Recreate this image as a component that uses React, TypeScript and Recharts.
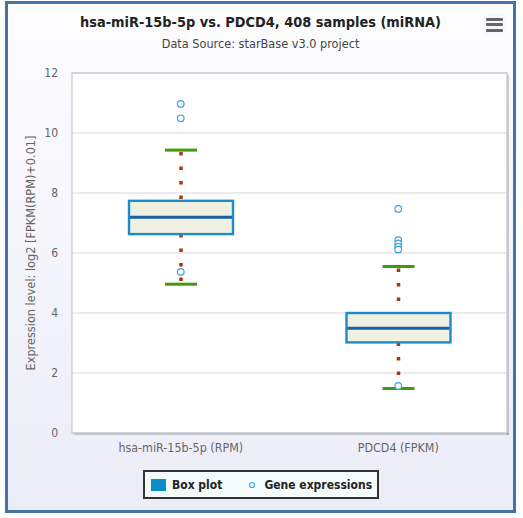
import React from "react";
import {
  ComposedChart,
  Bar,
  Scatter,
  XAxis,
  YAxis,
  CartesianGrid,
  ReferenceArea,
} from "recharts";

const categories = ["hsa-miR-15b-5p (RPM)", "PDCD4 (FPKM)"];
const lowWhisker = [4.96, 1.48];
const q1 = [6.63, 3.02];
const median = [7.19, 3.49];
const q3 = [7.74, 4.0];
const highWhisker = [9.43, 5.55];
const mirOutliers = [10.97, 10.49, 5.37];
const pdcd4Outliers = [7.47, 6.43, 6.32, 6.21, 6.12, 1.57];
const yTicks = [0, 2, 4, 6, 8, 10, 12];

const FONT = '"DejaVu Sans Condensed", "Noto Sans", sans-serif';

const boxData = categories.map((name, i) => ({
  x: i + 0.5,
  name,
  low: lowWhisker[i],
  q1: q1[i],
  median: median[i],
  q3: q3[i],
  high: highWhisker[i],
}));

const outlierData = [mirOutliers, pdcd4Outliers].flatMap((vals, i) =>
  vals.map((v) => ({ x: i + 0.5, y: v }))
);

// eslint-disable-next-line @typescript-eslint/no-explicit-any
function BoxShape(props: any) {
  const { x, y, width, height, payload } = props;
  const { low, high } = payload;
  const top = Math.min(y, y + height);
  const h = Math.abs(height);
  const py = (v: number) => top + ((high - v) / (high - low)) * h;
  const cx = x + width / 2;
  const capW = 32;
  return (
    <g>
      <line x1={cx} x2={cx} y1={py(high) + 2} y2={py(payload.q3)} stroke="#a8380a" strokeWidth={3.5} strokeDasharray="3.5 11" />
      <line x1={cx} x2={cx} y1={py(payload.q1)} y2={py(low)} stroke="#a8380a" strokeWidth={3.5} strokeDasharray="3.5 11" />
      <rect
        x={x}
        y={py(payload.q3)}
        width={width}
        height={py(payload.q1) - py(payload.q3)}
        fill="#eff0e2"
        stroke="#1a8cca"
        strokeWidth={2.4}
      />
      <line x1={x + 1} x2={x + width - 1} y1={py(payload.median)} y2={py(payload.median)} stroke="#1b5fa4" strokeWidth={3} />
      <line x1={cx - capW / 2} x2={cx + capW / 2} y1={py(high)} y2={py(high)} stroke="#3f9a0c" strokeWidth={3} />
      <line x1={cx - capW / 2} x2={cx + capW / 2} y1={py(low)} y2={py(low)} stroke="#3f9a0c" strokeWidth={3} />
    </g>
  );
}

// eslint-disable-next-line @typescript-eslint/no-explicit-any
function PlotFrame(props: any) {
  const { x, y, width, height } = props;
  return (
    <g>
      <line x1={x + width + 1} x2={x + width + 1} y1={y + 2} y2={y + height + 2} stroke="rgba(0,0,0,0.18)" strokeWidth={2} />
      <line x1={x + 2} x2={x + width + 2} y1={y + height + 1} y2={y + height + 1} stroke="rgba(0,0,0,0.18)" strokeWidth={2} />
      <rect x={x} y={y} width={width} height={height} fill="none" stroke="#c0c0c0" strokeWidth={1} />
    </g>
  );
}

// eslint-disable-next-line @typescript-eslint/no-explicit-any
function YLabel(props: any) {
  const { viewBox } = props;
  const lx = viewBox.x + 22;
  const ly = viewBox.y + viewBox.height / 2;
  return (
    <text
      x={lx}
      y={ly}
      transform={`rotate(-90 ${lx} ${ly})`}
      textAnchor="middle"
      dominantBaseline="central"
      fill="#666"
      fontSize={12.6}
      fontFamily={FONT}
    >
      Expression level: log2 [FPKM(RPM)+0.01]
    </text>
  );
}

// eslint-disable-next-line @typescript-eslint/no-explicit-any
function OutlierDot(props: any) {
  const { cx, cy } = props;
  return <circle cx={cx} cy={cy} r={3.3} fill="#fff" stroke="#3fa2da" strokeWidth={1.2} />;
}

export default function App() {
  return (
    <>
      <style>{`body{margin:0}`}</style>
      <div
        style={{
          position: "absolute",
          left: 5,
          top: 1,
          width: 511,
          height: 512,
          boxSizing: "border-box",
          border: "3px solid #4572a7",
          background: "linear-gradient(to bottom, #fdfdff, #ececf8)",
          fontFamily: FONT,
        }}
      >
        <div style={{ position: "absolute", left: 0, top: 9, width: 505, textAlign: "center", fontSize: 14.4, fontWeight: "bold", color: "#222", lineHeight: "18px" }}>
          hsa-miR-15b-5p vs. PDCD4, 408 samples (miRNA)
        </div>
        <div style={{ position: "absolute", left: 0, top: 33, width: 505, textAlign: "center", fontSize: 12.6, color: "#444", lineHeight: "14px" }}>
          Data Source: starBase v3.0 project
        </div>
        <div style={{ position: "absolute", left: 475, top: 10, width: 23, height: 22, background: "#f8f8ff", borderRadius: 3 }}>
          {[5, 10.5, 16].map((t) => (
            <div key={t} style={{ position: "absolute", left: 3, top: t - 1.5, width: 17, height: 3, background: "#666", borderRadius: 1 }} />
          ))}
        </div>
        <div style={{ position: "absolute", left: 0, top: 0 }}>
          <ComposedChart width={505} height={506} data={boxData} margin={{ top: 69, right: 6, bottom: 40, left: 0 }}>
            <CartesianGrid vertical={false} stroke="#d8d8d8" fill="#fff" />
            <XAxis
              dataKey="x"
              type="number"
              domain={[0, 2]}
              ticks={[0, 1, 2]}
              tick={false}
              tickSize={7}
              height={7}
              axisLine={{ stroke: "#c0d0e0" }}
              tickLine={{ stroke: "#c0d0e0" }}
            />
            <XAxis
              xAxisId="labels"
              dataKey="x"
              type="number"
              domain={[0, 2]}
              ticks={[0.5, 1.5]}
              tickFormatter={(v: number) => categories[Math.floor(v)]}
              axisLine={false}
              tickLine={false}
              tickSize={0}
              tickMargin={3}
              height={30}
              tick={{ fill: "#666", fontSize: 12.4, fontFamily: FONT }}
            />
            <YAxis
              type="number"
              domain={[0, 12]}
              ticks={yTicks}
              width={64}
              axisLine={false}
              tickLine={false}
              tickSize={0}
              tickMargin={14}
              tick={{ fill: "#666", fontSize: 12, fontFamily: FONT }}
              label={<YLabel />}
            />
            <ReferenceArea x1={0} x2={2} y1={0} y2={12} shape={<PlotFrame />} />
            <Bar
              dataKey={(d: { low: number; high: number }) => [d.low, d.high]}
              barSize={104}
              shape={<BoxShape />}
              isAnimationActive={false}
            />
            <Scatter data={outlierData} dataKey="y" shape={<OutlierDot />} isAnimationActive={false} />
          </ComposedChart>
        </div>
        <div
          style={{
            position: "absolute",
            left: 135,
            top: 466,
            width: 236,
            height: 29,
            boxSizing: "border-box",
            border: "2px solid #333",
            background: "#f4fbfb",
            display: "flex",
            alignItems: "center",
            fontSize: 12,
            fontWeight: "bold",
            color: "#222",
          }}
        >
          <span style={{ display: "inline-block", width: 15, height: 12, background: "#0a8ec8", marginLeft: 6, marginRight: 6 }} />
          <span>Box plot</span>
          <svg width={14} height={10} style={{ marginLeft: 23, marginRight: 5 }}>
            <circle cx={7} cy={5} r={2.5} fill="#fff" stroke="#3fa2da" strokeWidth={1.2} />
          </svg>
          <span>Gene expressions</span>
        </div>
      </div>
    </>
  );
}
